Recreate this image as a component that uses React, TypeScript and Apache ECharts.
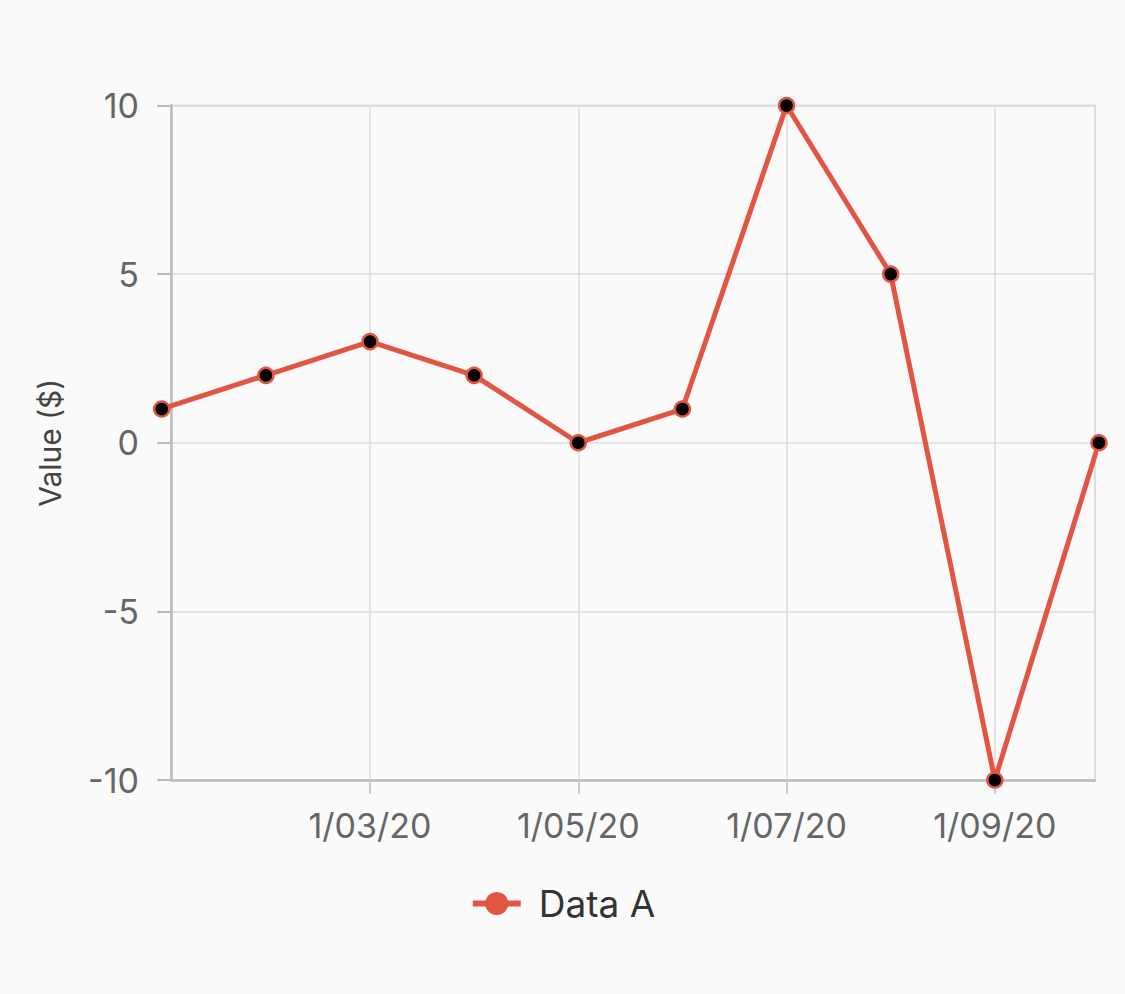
import React, { useEffect, useRef } from 'react';
import * as echarts from 'echarts';

// raw data
const dates = [
  '2020-01-01', '2020-01-02', '2020-01-03', '2020-01-04', '2020-01-05',
  '2020-01-06', '2020-01-07', '2020-01-08', '2020-01-09', '2020-01-10'
];
const values = [1, 2, 3, 2, 0, 1, 10, 5, -10, 0];
const tickDates = ['2020-01-03', '2020-01-05', '2020-01-07', '2020-01-09'];
const yTicks = [-10, -5, 0, 5, 10];
const seriesName = 'Data A';

const RED = '#e25543';
const DAY = 86400000;

const toTime = (s: string) => {
  const [y, m, d] = s.split('-').map(Number);
  return new Date(y, m - 1, d).getTime();
};

const fmtDate = (v: number) => {
  const d = new Date(v);
  return `${d.getMonth() + 1}/${String(d.getDate()).padStart(2, '0')}/${String(d.getFullYear()).slice(2)}`;
};

const App: React.FC = () => {
  const chartRef = useRef<HTMLDivElement>(null);

  useEffect(() => {
    document.body.style.margin = '0';
    if (!chartRef.current) return;

    const chart = echarts.init(chartRef.current, null, { renderer: 'svg' });

    const first = toTime(dates[0]);
    const last = toTime(dates[dates.length - 1]);
    const ticks = tickDates.map(toTime);

    const option: echarts.EChartsOption = {
      animation: false,
      backgroundColor: '#fafafa',
      textStyle: { fontFamily: 'Inter' },
      grid: {
        left: 171,
        right: 30,
        top: 105.5,
        bottom: 214,
        show: true,
        borderColor: '#dddddd',
        borderWidth: 2
      },
      legend: {
        bottom: 67,
        left: 'center',
        itemWidth: 48,
        itemHeight: 29,
        itemStyle: { color: RED, borderWidth: 0 },
        lineStyle: { width: 6 },
        textStyle: { fontSize: 37, color: '#333', padding: [0, 0, 0, 13] },
        data: [seriesName]
      },
      xAxis: {
        type: 'value',
        // frame is inset a little from the first and last point
        min: first + 0.089 * DAY,
        max: last - 0.038 * DAY,
        axisLine: { onZero: false, lineStyle: { color: '#bbbbbb', width: 2.5 } },
        axisTick: {
          show: true,
          length: 14,
          lineStyle: { color: '#cccccc', width: 2 },
          customValues: ticks
        },
        axisLabel: {
          customValues: ticks,
          formatter: (v: number) => fmtDate(v),
          fontSize: 34,
          color: '#666',
          margin: 28
        },
        splitLine: { show: true, lineStyle: { color: '#dddddd', width: 1.5 } }
      },
      yAxis: {
        type: 'value',
        min: yTicks[0],
        max: yTicks[yTicks.length - 1],
        interval: 5,
        name: 'Value ($)',
        nameLocation: 'middle',
        nameRotate: 90,
        nameGap: 106,
        nameTextStyle: { fontSize: 30, color: '#444' },
        axisLine: { show: true, lineStyle: { color: '#bbbbbb', width: 2.5 } },
        axisTick: { show: true, length: 14, lineStyle: { color: '#bbbbbb', width: 2 } },
        axisLabel: { fontSize: 34, color: '#666', margin: 32 },
        splitLine: { show: true, lineStyle: { color: '#dddddd', width: 1.5 } }
      },
      series: [
        {
          name: seriesName,
          type: 'line',
          clip: false,
          data: dates.map((d, i) => [toTime(d), values[i]]),
          symbol: 'circle',
          symbolSize: 15,
          itemStyle: { color: '#000', borderColor: RED, borderWidth: 2.5 },
          lineStyle: { color: RED, width: 5 }
        }
      ]
    };

    chart.setOption(option);

    return () => {
      chart.dispose();
    };
  }, []);

  return <div ref={chartRef} style={{ width: 1125, height: 994 }} />;
};

export default App;
